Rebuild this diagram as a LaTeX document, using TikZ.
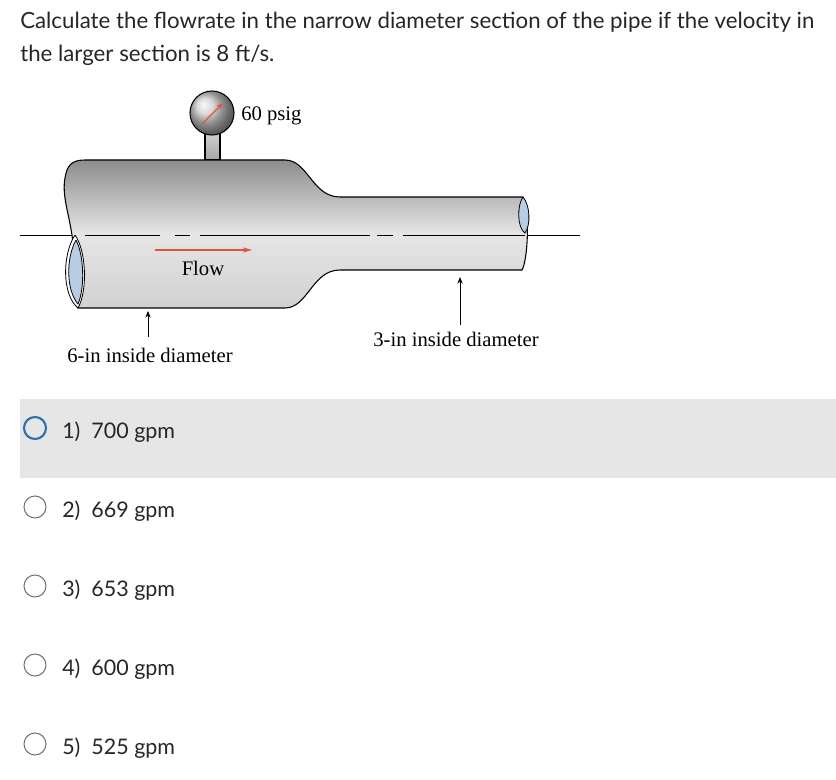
\documentclass[tikz,border=0pt]{standalone}
\usepackage{fontspec}
\setmainfont{Lato}
\newfontfamily\serif{Liberation Serif}
\usetikzlibrary{arrows.meta}
\definecolor{band}{HTML}{E6E6E6}
\definecolor{radio}{HTML}{2D6FA8}
\definecolor{flowred}{HTML}{E0553A}
\definecolor{face}{HTML}{B8CCE4}
\tikzset{
  qtext/.style={anchor=west,inner sep=0pt,font=\fontsize{16.7}{20}\selectfont,text=black!85},
  opt/.style={anchor=west,inner sep=0pt,font=\fontsize{16.1}{19}\selectfont,text=black!85},
  radiobtn/.style={circle,draw=black!55,line width=0.8pt,minimum size=16.5pt,inner sep=0pt},
  lbl/.style={inner sep=0pt,font=\serif\fontsize{15.5}{17}\selectfont},
  pipe/.style={draw=black,line width=0.8pt,top color=black!45,bottom color=black!18,middle color=black!10},
  dimarrow/.style={-{Stealth[length=5pt,width=4pt]},line width=0.6pt}
}
\begin{document}
\begin{tikzpicture}[x=0.75pt,y=-0.75pt]
\useasboundingbox (0,0) rectangle (836,780);
\node[qtext] (q1) at (20,22) {Calculate the flowrate in the narrow diameter section of the pipe if the velocity in};
\node[qtext] (q2) at (20,55) {the larger section is 8 ft/s.};
% center line
\draw[line width=0.6pt] (20,235) -- (580,235);
% gauge stem
\draw[pipe,top color=black!15,bottom color=black!35] (205,128) rectangle (220,160);
% pipe body
\draw[pipe] (72,235) .. controls (68,210) and (62,195) .. (65,178)
  .. controls (67,165) and (72,160) .. (85,160) -- (285,160)
  .. controls (308,160) and (312,197) .. (340,197) -- (523,197)
  .. controls (530,210) and (528,260) .. (522,270) -- (340,270)
  .. controls (312,270) and (308,308) .. (285,308) -- (78,308)
  .. controls (74,290) and (74,250) .. (72,235) -- cycle;
\draw[line width=0.6pt,fill=white] (75,235) .. controls (62,255) and (62,295) .. (78,308) .. controls (88,290) and (86,250) .. (75,235);
\draw[line width=0.6pt,fill=face] (76,240) .. controls (66,258) and (66,290) .. (78,304) .. controls (85,288) and (84,255) .. (76,240);
\draw[line width=0.6pt,fill=face] (523,197) .. controls (517,205) and (517,228) .. (525,233) .. controls (531,225) and (530,205) .. (523,197);
% centerline over pipe
\draw[line width=0.6pt] (85,235) -- (160,235) (175,235) -- (190,235) (200,235) -- (370,235) (377,235) -- (393,235) (403,235) -- (525,235);
% gauge
\node[circle,draw=black,line width=0.8pt,minimum size=33pt,inner sep=0pt,ball color=black!20,shading=ball] (g) at (212,113) {};
\draw[flowred,line width=0.8pt,-{Stealth[length=5pt]}] (202,124) -- (223,103);
\node[lbl,anchor=west] (p) at (241,116) {60 psig};
% flow
\draw[flowred,line width=0.8pt,-{Stealth[length=7pt,width=4pt]}] (155,250) -- (252,250);
\node[lbl] (flow) at (203,268) {Flow};
% dimension labels
\node[lbl] (d6) at (150,355) {6-in inside diameter};
\node[lbl] (d3) at (456,339) {3-in inside diameter};
\coordinate (t6) at (148,311);
\coordinate (t3) at (460,277);
\draw[dimarrow] (d6.north -| t6) ++(0,-10) -- (t6);
\draw[dimarrow] (d3.north -| t3) ++(0,-6) -- (t3);
% options
\fill[band] (20,399) rectangle (836,478);
\node[radiobtn,draw=radio,line width=1.6pt] (r1) at (35,428) {};
\node[opt] (o1) at (62,432) {1)\ \ 700 gpm};
\node[radiobtn] (r2) at (35,507) {};
\node[opt] (o2) at (62,511) {2)\ \ 669 gpm};
\node[radiobtn] (r3) at (35,586) {};
\node[opt] (o3) at (62,590) {3)\ \ 653 gpm};
\node[radiobtn] (r4) at (35,665) {};
\node[opt] (o4) at (62,669) {4)\ \ 600 gpm};
\node[radiobtn] (r5) at (35,744) {};
\node[opt] (o5) at (62,748) {5)\ \ 525 gpm};
\end{tikzpicture}
\end{document}
